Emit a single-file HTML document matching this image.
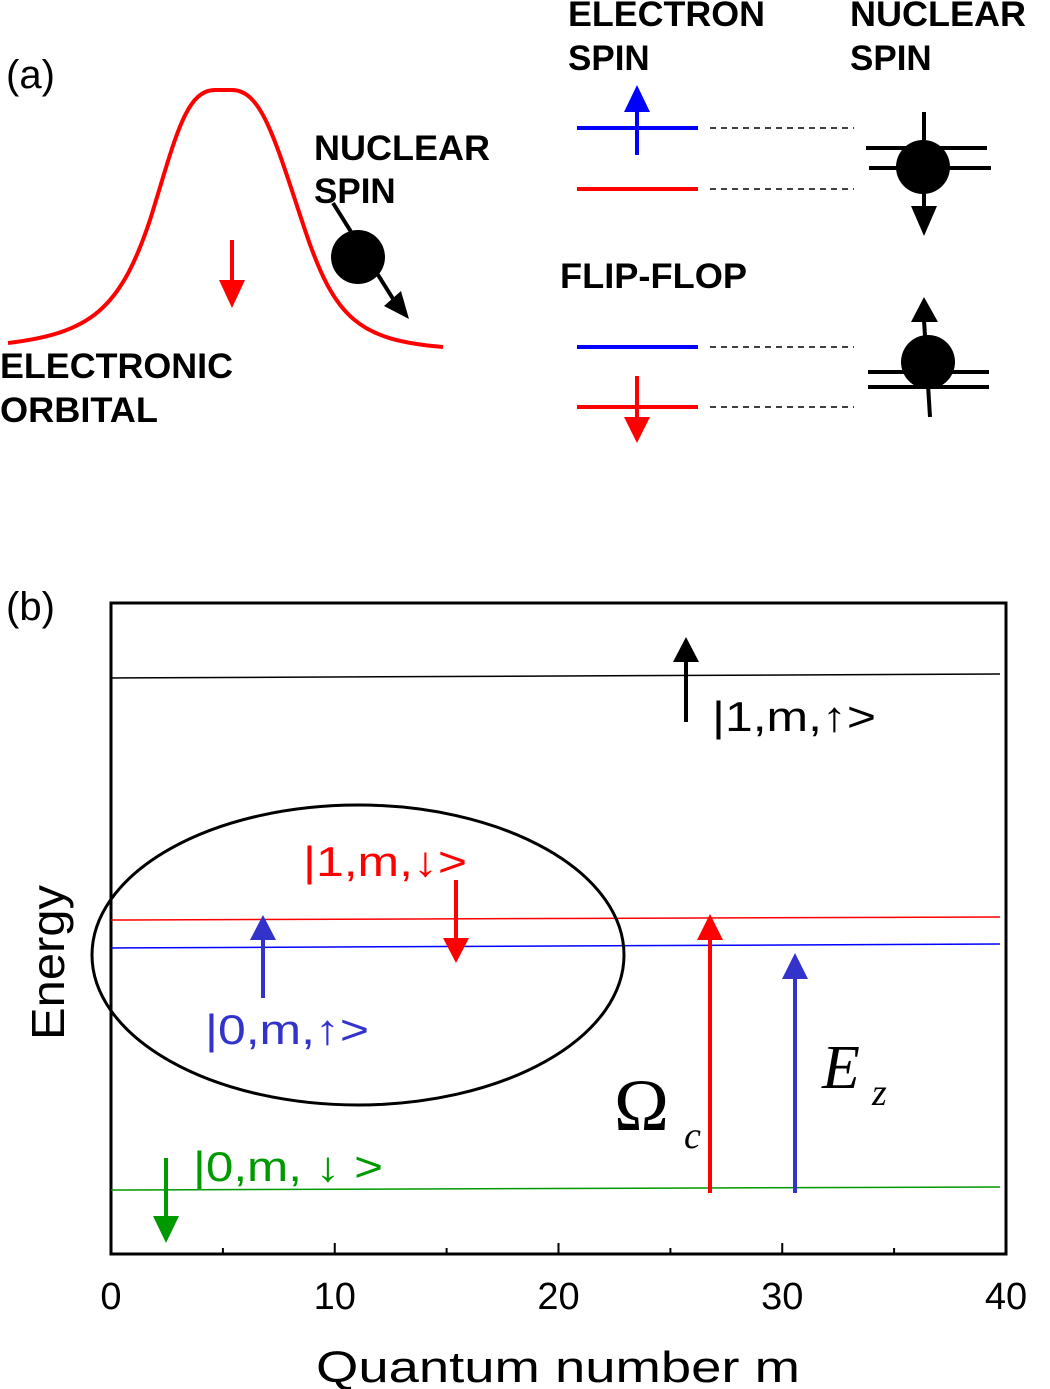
<!DOCTYPE html>
<html><head><meta charset="utf-8"><style>html,body{margin:0;padding:0;background:#fff}svg{display:block}</style></head><body>
<svg width="1050" height="1389" viewBox="0 0 1050 1389" xmlns="http://www.w3.org/2000/svg" font-family="Liberation Sans, sans-serif">
<!-- (a) -->
<text x="6" y="88" font-size="40">(a)</text>
<path d="M8,343 C90,333 120,310 150,220 C175,140 185,90 215,90 L232,90 C262,90 275,140 305,230 C335,320 360,340 443,347" fill="none" stroke="#f00" stroke-width="4"/>
<line x1="232" y1="240" x2="232" y2="282" stroke="#f00" stroke-width="4"/>
<polygon points="219,280 245,280 232,308" fill="#f00"/>
<text x="314" y="160" font-size="35" font-weight="bold" textLength="176" lengthAdjust="spacingAndGlyphs">NUCLEAR</text>
<text x="314" y="203" font-size="35" font-weight="bold">SPIN</text>
<line x1="333" y1="203" x2="395" y2="302" stroke="#000" stroke-width="4"/>
<circle cx="358" cy="257" r="27"/>
<polygon points="384,306 401,291 409,319" fill="#000"/>
<text x="0" y="378" font-size="35" font-weight="bold" textLength="233" lengthAdjust="spacingAndGlyphs">ELECTRONIC</text>
<text x="0" y="422" font-size="35" font-weight="bold" textLength="158" lengthAdjust="spacingAndGlyphs">ORBITAL</text>

<text x="568" y="26" font-size="35" font-weight="bold" textLength="197" lengthAdjust="spacingAndGlyphs">ELECTRON</text>
<text x="568" y="70" font-size="35" font-weight="bold">SPIN</text>
<text x="850" y="26" font-size="35" font-weight="bold" textLength="176" lengthAdjust="spacingAndGlyphs">NUCLEAR</text>
<text x="850" y="70" font-size="35" font-weight="bold">SPIN</text>
<line x1="577" y1="128" x2="698" y2="128" stroke="#00f" stroke-width="4"/>
<line x1="637" y1="155" x2="637" y2="110" stroke="#00f" stroke-width="4"/>
<polygon points="624,112 650,112 637,85" fill="#00f"/>
<line x1="577" y1="189" x2="698" y2="189" stroke="#f00" stroke-width="4"/>
<g stroke="#000" stroke-width="1.5" stroke-dasharray="6,5">
<line x1="710" y1="128" x2="854" y2="128"/><line x1="710" y1="189" x2="854" y2="189"/>
<line x1="710" y1="347" x2="854" y2="347"/><line x1="710" y1="407" x2="854" y2="407"/>
</g>
<line x1="866" y1="148" x2="987" y2="148" stroke="#000" stroke-width="4"/>
<line x1="869" y1="168" x2="991" y2="168" stroke="#000" stroke-width="4"/>
<line x1="924" y1="112" x2="924" y2="210" stroke="#000" stroke-width="4"/>
<circle cx="923" cy="167" r="27"/>
<polygon points="911,206 937,206 924,236" fill="#000"/>

<text x="560" y="288" font-size="35" font-weight="bold" textLength="187" lengthAdjust="spacingAndGlyphs">FLIP-FLOP</text>
<line x1="577" y1="347" x2="698" y2="347" stroke="#00f" stroke-width="4"/>
<line x1="577" y1="407" x2="698" y2="407" stroke="#f00" stroke-width="4"/>
<line x1="637" y1="376" x2="637" y2="420" stroke="#f00" stroke-width="4"/>
<polygon points="624,417 650,417 637,443" fill="#f00"/>
<line x1="868" y1="372" x2="989" y2="372" stroke="#000" stroke-width="4"/>
<line x1="868" y1="387" x2="989" y2="387" stroke="#000" stroke-width="4"/>
<line x1="930" y1="417" x2="924" y2="320" stroke="#000" stroke-width="4"/>
<circle cx="928" cy="362" r="27"/>
<polygon points="911,322 938,322 924,297" fill="#000"/>

<!-- (b) -->
<text x="6" y="620" font-size="40">(b)</text>
<rect x="111" y="603" width="895" height="651" fill="none" stroke="#000" stroke-width="3"/>
<g stroke="#000" stroke-width="2">
<line x1="111" y1="1254" x2="111" y2="1243"/><line x1="222.9" y1="1254" x2="222.9" y2="1248"/>
<line x1="334.75" y1="1254" x2="334.75" y2="1243"/><line x1="446.6" y1="1254" x2="446.6" y2="1248"/>
<line x1="558.5" y1="1254" x2="558.5" y2="1243"/><line x1="670.4" y1="1254" x2="670.4" y2="1248"/>
<line x1="782.25" y1="1254" x2="782.25" y2="1243"/><line x1="894.1" y1="1254" x2="894.1" y2="1248"/>
</g>
<g font-size="38" text-anchor="middle">
<text x="111" y="1309">0</text><text x="334.75" y="1309">10</text><text x="558.5" y="1309">20</text><text x="782.25" y="1309">30</text><text x="1006" y="1309">40</text>
</g>
<text x="316" y="1382" font-size="44" textLength="484" lengthAdjust="spacingAndGlyphs">Quantum number m</text>
<text transform="translate(64,1040) rotate(-90)" font-size="46" textLength="155" lengthAdjust="spacingAndGlyphs">Energy</text>

<line x1="111" y1="678" x2="1000" y2="674" stroke="#000" stroke-width="1.5"/>
<line x1="686" y1="722" x2="686" y2="660" stroke="#000" stroke-width="4"/>
<polygon points="673,662 699,662 686,637" fill="#000"/>
<text x="712" y="731" font-size="42" textLength="164" lengthAdjust="spacingAndGlyphs">|1,m,↑&gt;</text>

<line x1="111" y1="920" x2="1000" y2="917" stroke="#f00" stroke-width="1.5"/>
<line x1="111" y1="948" x2="1000" y2="944" stroke="#00f" stroke-width="1.5"/>
<line x1="111" y1="1190" x2="1000" y2="1187" stroke="#090" stroke-width="1.5"/>
<ellipse cx="358" cy="955" rx="266" ry="150" fill="none" stroke="#000" stroke-width="3"/>
<text x="303" y="876" font-size="42" fill="#f00" textLength="164" lengthAdjust="spacingAndGlyphs">|1,m,↓&gt;</text>
<line x1="456" y1="880" x2="456" y2="940" stroke="#f00" stroke-width="4"/>
<polygon points="443,938 469,938 456,963" fill="#f00"/>
<line x1="263" y1="998" x2="263" y2="938" stroke="#33c" stroke-width="4"/>
<polygon points="250,940 276,940 263,915" fill="#33c"/>
<text x="205" y="1044" font-size="42" fill="#33c" textLength="164" lengthAdjust="spacingAndGlyphs">|0,m,↑&gt;</text>
<line x1="710" y1="1193" x2="710" y2="938" stroke="#f00" stroke-width="4"/>
<polygon points="697,940 723,940 710,914" fill="#f00"/>
<line x1="795" y1="1193" x2="795" y2="977" stroke="#33c" stroke-width="4"/>
<polygon points="782,979 808,979 795,953" fill="#33c"/>
<text x="614" y="1130" font-size="74" font-family="Liberation Serif, serif">Ω</text>
<text x="684" y="1148" font-size="38" font-style="italic" font-family="Liberation Serif, serif">c</text>
<text x="822" y="1088" font-size="62" font-style="italic" font-family="Liberation Serif, serif">E</text>
<text x="872" y="1105" font-size="38" font-style="italic" font-family="Liberation Serif, serif">z</text>
<text x="193" y="1181" font-size="42" fill="#090" textLength="190" lengthAdjust="spacingAndGlyphs">|0,m, ↓ &gt;</text>
<line x1="166" y1="1158" x2="166" y2="1218" stroke="#090" stroke-width="4"/>
<polygon points="153,1216 179,1216 166,1243" fill="#090"/>
</svg>
</body></html>
